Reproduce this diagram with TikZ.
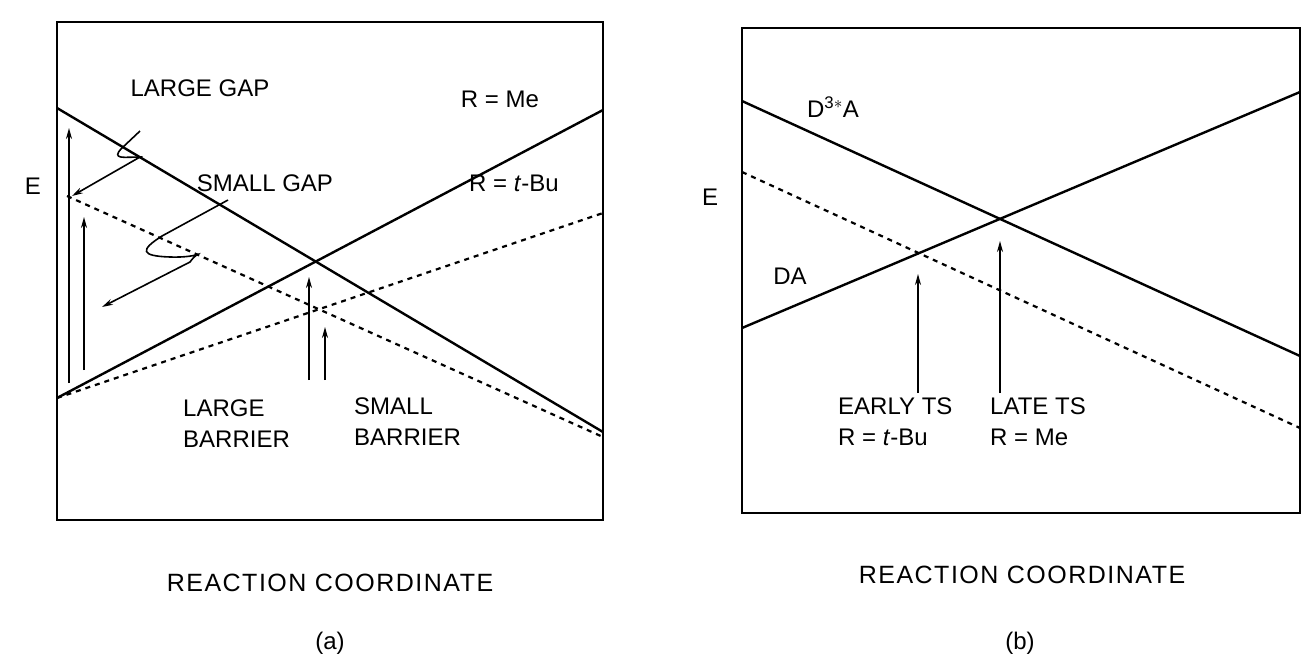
\documentclass[tikz,border=0pt]{standalone}
\usepackage{fontspec}
\setmainfont{Liberation Sans}
\usetikzlibrary{arrows.meta}
\begin{document}
\begin{tikzpicture}[x=1pt,y=-1pt,
  ln/.style={line width=2.4pt},
  dl/.style={line width=2.2pt,dash pattern=on 5pt off 5pt},
  ar/.style={line width=1.6pt,-{Stealth[length=11pt,width=6pt]}},
  lb/.style={font=\fontsize{24}{27}\selectfont,inner sep=0pt},
  lbw/.style={font=\addfontfeature{LetterSpace=6}\fontsize{25}{28}\selectfont,inner sep=0pt},
  lbl/.style={lb,align=left,anchor=west}]
\useasboundingbox (0,0) rectangle (1315,659);
% panel a
\draw[line width=2pt] (57,22) rectangle (603,520);
\coordinate (a1) at (57,108); \coordinate (a2) at (603,432);
\coordinate (a3) at (57,398); \coordinate (a4) at (603,110);
\coordinate (a5) at (67,196); \coordinate (a6) at (603,437);
\coordinate (a7) at (603,213);
\draw[ln] (a1) -- (a2); \draw[ln] (a3) -- (a4);
\draw[dl] (a5) -- (a6); \draw[dl] (a3) -- (a7);
\coordinate (v1a) at (69,383); \coordinate (v1b) at (69,128);
\coordinate (v2a) at (84,370); \coordinate (v2b) at (84,217);
\coordinate (v3a) at (309,380); \coordinate (v3b) at (309,277);
\coordinate (v4a) at (325,380); \coordinate (v4b) at (325,327);
\draw[ar] (v1a) -- (v1b); \draw[ar] (v2a) -- (v2b);
\draw[ar] (v3a) -- (v3b); \draw[ar] (v4a) -- (v4b);
\coordinate (g1) at (140,131); \coordinate (g1e) at (72,196);
\draw[ar] (g1) -- (122,148) .. controls (110,160) and (125,157) .. (140,157) -- (g1e);
\coordinate (g2) at (228,200); \coordinate (g2e) at (102,307);
\draw[ar] (g2) -- (162,236) .. controls (140,250) and (140,256) .. (170,257)
  .. controls (205,258) and (200,248) .. (190,262) -- (g2e);
\node[lb] (tlg) at (200,88) {LARGE GAP};
\node[lb] (tsg) at (265,183) {SMALL GAP};
\node[lb] (tme) at (500,99) {R = Me};
\node[lb] (tbu) at (514,183) {R = \textit{t}-Bu};
\node[lb] (te1) at (33,186) {E};
\node[lbl] (tlb) at (183,424) {LARGE\\[4pt]BARRIER};
\node[lbl] (tsb) at (354,422) {SMALL\\[4pt]BARRIER};
\node[lbw] (trc1) at (330,583) {REACTION COORDINATE};
\node[lb] (ta) at (330,643) {(a)};
% panel b
\draw[line width=2pt] (742,28) rectangle (1300,513);
\coordinate (b1) at (742,101); \coordinate (b2) at (1300,356);
\coordinate (b3) at (742,328); \coordinate (b4) at (1300,92);
\coordinate (b5) at (742,172); \coordinate (b6) at (1300,428);
\draw[ln] (b1) -- (b2); \draw[ln] (b3) -- (b4); \draw[dl] (b5) -- (b6);
\coordinate (w1a) at (918,393); \coordinate (w1b) at (918,274);
\coordinate (w2a) at (1000,393); \coordinate (w2b) at (1000,241);
\draw[ar] (w1a) -- (w1b); \draw[ar] (w2a) -- (w2b);
\node[lb] (td3) at (833,107) {D$^{\mathrm{3*}}$A};
\node[lb] (tda) at (790,276) {DA};
\node[lb] (te2) at (710,197) {E};
\node[lbl] (tes) at (838,422) {EARLY TS\\[4pt]R = \textit{t}-Bu};
\node[lbl] (tls) at (990,422) {LATE TS\\[4pt]R = Me};
\node[lbw] (trc2) at (1022,575) {REACTION COORDINATE};
\node[lb] (tb) at (1020,643) {(b)};
\end{tikzpicture}
\end{document}
